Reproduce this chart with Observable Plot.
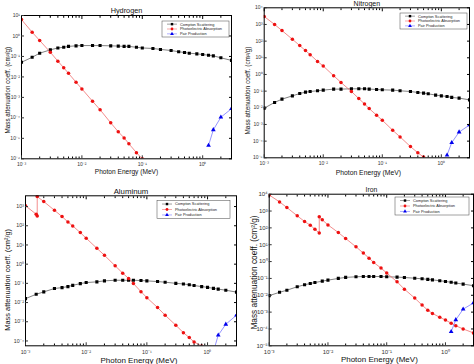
<!DOCTYPE html>
<html><head><meta charset="utf-8">
<script src="https://cdn.jsdelivr.net/npm/d3@7"></script>
<script src="https://cdn.jsdelivr.net/npm/@observablehq/plot@0.6"></script>
<style>
body{margin:0;background:#fff;}
#wrap{position:relative;width:474px;height:364px;overflow:hidden;background:#fff;}
.panel{position:absolute;width:237px;height:182px;}
.panel svg{overflow:visible;}
</style></head><body><div id="wrap"></div>
<script>
// ---- data (MeV, cm^2/g) ----
const energies = [0.001,0.0015,0.002,0.003,0.004,0.005,0.006,0.008,0.01,0.015,0.02,0.03,0.04,0.05,0.06,0.08,0.1,0.15,0.2,0.3,0.4,0.5,0.6,0.8,1,1.25,1.5,2,3];
const pairEnergies = [1.25,1.5,2,3];
const seriesNames = ["Compton Scattering","Photoelectric Absorption","Pair Production"];
const xTicks = [0.001,0.01,0.1,1];

const hCompton = [0.052,0.091,0.144,0.21,0.26,0.28,0.31,0.33,0.34,0.34,0.34,0.33,0.32,0.31,0.31,0.28,0.26,0.245,0.22,0.195,0.17,0.155,0.144,0.134,0.124,0.115,0.107,0.086,0.064];
const hPhotoE = energies.slice(0,17);
const hPhoto = [6.3,1.53,0.60,0.16,0.059,0.028,0.015,0.0055,0.0026,6.5e-4,2.5e-4,5.7e-5,2.1e-5,1.05e-5,5.4e-6,2.0e-6,1.0e-6];
const hPair = [4.5e-6,2.6e-5,1.07e-4,2.8e-4];

const nCompton = [0.0095,0.021,0.033,0.052,0.072,0.087,0.095,0.105,0.115,0.132,0.132,0.138,0.138,0.138,0.132,0.126,0.12,0.115,0.105,0.095,0.083,0.076,0.069,0.058,0.052,0.048,0.042,0.038,0.030];
const nPhotoE = energies.slice(0,23);
const nPhoto = [3000,1000,430,130,54,27,15.5,6.1,3.2,0.84,0.33,0.095,0.036,0.017,0.009,0.0036,0.0018,4.5e-4,1.8e-4,4.7e-5,2.0e-5,1.1e-5,6.2e-6];
const nPair = [1.45e-5,8.1e-5,3.5e-4,9.3e-4];

const alCompton = [0.016,0.027,0.036,0.054,0.06,0.068,0.079,0.097,0.11,0.12,0.135,0.145,0.145,0.145,0.145,0.14,0.135,0.124,0.115,0.10,0.093,0.085,0.077,0.068,0.062,0.055,0.050,0.044,0.035];
const alPhotoE = [0.001,0.0015,0.00156,0.00156,0.002,0.003,0.004,0.005,0.006,0.008,0.01,0.015,0.02,0.03,0.04,0.05,0.06,0.08,0.1,0.15,0.2,0.3,0.4,0.5,0.6,0.8];
const alPhoto = [1100,400,325,3300,1820,640,300,158,98,44,22.5,6.7,2.9,0.82,0.34,0.18,0.098,0.037,0.018,0.0055,0.0022,6.6e-4,2.7e-4,1.5e-4,8.9e-5,5.5e-5];
const alPair = [2.8e-5,2.0e-4,7.4e-4,2.2e-3];

const feCompton = [0.0095,0.015,0.020,0.032,0.042,0.050,0.057,0.069,0.079,0.10,0.115,0.125,0.13,0.13,0.13,0.13,0.125,0.12,0.113,0.103,0.095,0.088,0.082,0.073,0.066,0.059,0.053,0.046,0.037];
const fePhotoE = [0.001,0.0015,0.002,0.003,0.004,0.005,0.006,0.00711,0.00711,0.008,0.01,0.015,0.02,0.03,0.04,0.05,0.06,0.08,0.1,0.15,0.2,0.3,0.4,0.5,0.6,0.8,1,1.25,1.5,2,3];
const fePhoto = [9000,3500,1620,520,240,145,84,49,460,300,150,53,23.5,7.5,3.2,1.6,0.89,0.41,0.21,0.063,0.023,0.0068,0.0026,0.0013,8.4e-4,4.9e-4,3.4e-4,2.2e-4,1.55e-4,1.0e-4,5.8e-5];
const fePair = [6.9e-5,3.5e-4,1.5e-3,3.5e-3];

// ---- helpers ----
const supMap = {"-":"\u207B","0":"\u2070","1":"\u00B9","2":"\u00B2","3":"\u00B3","4":"\u2074","5":"\u2075","6":"\u2076","7":"\u2077","8":"\u2078","9":"\u2079"};
const fmt = d => "10" + String(Math.round(Math.log10(d))).split("").map(c => supMap[c]).join("");
function decades(lo, hi) {
  const out = [];
  for (let k = Math.ceil(Math.log10(lo) - 1e-9); k <= Math.floor(Math.log10(hi) + 1e-9); k++) out.push(Math.pow(10, k));
  return out;
}
function minors(lo, hi) {
  const out = [];
  for (let k = Math.floor(Math.log10(lo)); k <= Math.ceil(Math.log10(hi)); k++)
    for (let j = 2; j <= 9; j++) { const v = j * Math.pow(10, k); if (v >= lo && v <= hi) out.push(v); }
  return out;
}
const COL = {
  compton: {line: "#606060", dot: "#000000", symbol: "square"},
  photo: {line: "#f07070", dot: "#ee1111", symbol: "circle"},
  pair: {line: "#7a7aff", dot: "#0000ee", symbol: "triangle"}
};
const FONT = "'Liberation Sans', Arial, sans-serif";

const panels = [
  {title: "Hydrogen", left: 0, top: 0, m: [15, 6, 23.7, 21], ydom: [1e-6, 10],
   compton: hCompton, photoE: hPhotoE, photo: hPhoto, pair: hPair,
   titleDy: -2.5, titleSize: 7.3, tickSize: 5, xlabDx: 0, xlabDy: 12.8, xlabSize: 6.6,
   ylabX: 7, ylabDy: 3, ylabSize: 6.3, leg: [162, 21, 67, 16]},
  {title: "Nitrogen", left: 237, top: 0, m: [7.3, 5, 24.7, 26.7], ydom: [1e-5, 1e4],
   compton: nCompton, photoE: nPhotoE, photo: nPhoto, pair: nPair,
   titleDy: -2, titleSize: 7, tickSize: 5, xlabDx: 1.5, xlabDy: 15, xlabSize: 6.8,
   ylabX: 10, ylabDy: 7.7, ylabSize: 6.4, leg: [163, 13, 67, 16]},
  {title: "Aluminum", left: 0, top: 182, m: [13.3, 1, 18.7, 25], ydom: [5.6e-5, 3630],
   compton: alCompton, photoE: alPhotoE, photo: alPhoto, pair: alPair,
   titleDy: -1.8, titleSize: 7.8, tickSize: 5.3, xlabDx: 8, xlabDy: 14.3, xlabSize: 8,
   ylabX: 7, ylabDy: 9, ylabSize: 7.4, leg: [157, 18.5, 73, 18]},
  {title: "Iron", left: 237, top: 182, m: [11.7, 1, 18.7, 31.7], ydom: [1e-5, 1e4],
   compton: feCompton, photoE: fePhotoE, photo: fePhoto, pair: fePair,
   titleDy: -2.5, titleSize: 6.8, tickSize: 6, xlabDx: 8, xlabDy: 13.8, xlabSize: 8,
   ylabX: 17, ylabDy: 2.5, ylabSize: 8.3, leg: [158, 15, 74, 18]}
];

const wrap = document.getElementById("wrap");

for (const p of panels) {
  const comptonData = energies.map((e, i) => ({e, v: p.compton[i]}));
  const photoData = p.photoE.map((e, i) => ({e, v: p.photo[i]}));
  const pairData = pairEnergies.map((e, i) => ({e, v: p.pair[i]}));
  const yTicks = decades(p.ydom[0], p.ydom[1]);
  const xMinor = minors(0.001, 3);
  const series = (data, c) => [
    Plot.line(data, {x: "e", y: "v", stroke: c.line, strokeWidth: 0.8, clip: true}),
    Plot.dot(data, {x: "e", y: "v", symbol: c.symbol, r: 1.75, fill: c.dot, stroke: "none", clip: true})
  ];
  const svg = Plot.plot({
    width: 237, height: 182,
    marginTop: p.m[0], marginRight: p.m[1], marginBottom: p.m[2], marginLeft: p.m[3],
    style: {fontFamily: FONT, background: "transparent", overflow: "visible", color: "#000"},
    x: {type: "log", domain: [0.001, 3]},
    y: {type: "log", domain: p.ydom},
    marks: [
      ...series(comptonData, COL.compton),
      ...series(photoData, COL.photo),
      ...series(pairData, COL.pair),
      Plot.frame({stroke: "#000", strokeWidth: 1}),
      Plot.axisX(xTicks, {anchor: "bottom", tickSize: -3, tickPadding: 7, tickFormat: fmt, fontSize: p.tickSize, label: null, color: "#333"}),
      Plot.axisX(xMinor, {anchor: "bottom", tickSize: -1.8, tickFormat: () => "", label: null}),
      Plot.axisX(xTicks, {anchor: "top", tickSize: -3, tickFormat: () => "", label: null}),
      Plot.axisX(xMinor, {anchor: "top", tickSize: -1.8, tickFormat: () => "", label: null}),
      Plot.axisY(yTicks, {anchor: "left", tickSize: -3, tickPadding: 4.5, tickFormat: fmt, fontSize: p.tickSize, label: null, color: "#333"}),
      Plot.axisY(yTicks, {anchor: "right", tickSize: -3, tickFormat: () => "", label: null}),
      Plot.text([p.title], {frameAnchor: "top", dy: p.titleDy, lineAnchor: "bottom", fontSize: p.titleSize, fill: "#111"}),
      Plot.text(["Photon Energy (MeV)"], {frameAnchor: "bottom", dx: p.xlabDx, dy: p.xlabDy, lineAnchor: "middle", fontSize: p.xlabSize, fill: "#111"}),
      Plot.text(["Mass attenuation coeff. (cm\u00B2/g)"], {frameAnchor: "left", textAnchor: "middle", dx: p.ylabX - p.m[3], dy: p.ylabDy, rotate: -90, lineAnchor: "middle", fontSize: p.ylabSize, fill: "#111"})
    ]
  });
  // legend
  const [lx, ly, lw, lh] = p.leg;
  const g = d3.select(svg).append("g").attr("transform", `translate(${lx},${ly})`).attr("text-anchor", "start");
  g.append("rect").attr("width", lw).attr("height", lh).attr("fill", "#fff").attr("stroke", "#444").attr("stroke-width", 0.5);
  const keys = ["compton", "photo", "pair"];
  const symbols = {square: d3.symbolSquare, circle: d3.symbolCircle, triangle: d3.symbolTriangle};
  keys.forEach((k, i) => {
    const c = COL[k];
    const ry = lh / 2 + (i - 1) * (lh / 3.3);
    g.append("line").attr("x1", 5).attr("x2", 15).attr("y1", ry).attr("y2", ry).attr("stroke", c.line).attr("stroke-width", 0.6);
    g.append("path").attr("transform", `translate(10,${ry})`).attr("d", d3.symbol(symbols[c.symbol], 6)()).attr("fill", c.dot);
    g.append("text").attr("x", 18).attr("y", ry).attr("dy", "0.35em").attr("text-anchor", "start").attr("font-size", 3.9).attr("font-family", FONT).attr("fill", "#222").text(seriesNames[i]);
  });
  const div = document.createElement("div");
  div.className = "panel";
  div.style.left = p.left + "px";
  div.style.top = p.top + "px";
  div.appendChild(svg);
  wrap.appendChild(div);
}
</script>
</body></html>
